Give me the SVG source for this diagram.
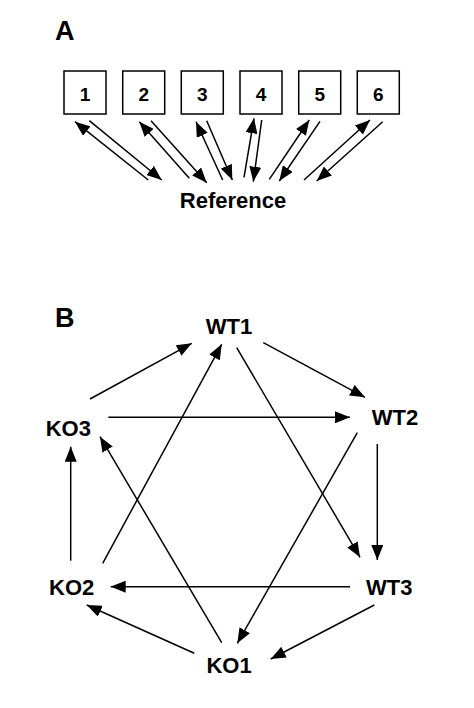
<svg xmlns="http://www.w3.org/2000/svg" width="474" height="708" viewBox="0 0 474 708">
<defs>
<marker id="ah" markerUnits="userSpaceOnUse" markerWidth="15" markerHeight="12" refX="15" refY="6" orient="auto">
<path d="M0,0 L15,6 L0,12 z" fill="#000"/>
</marker>
<style>
.t{font-family:"Liberation Sans",Arial,sans-serif;font-weight:bold;fill:#000;text-anchor:middle}
.box{fill:#fff;stroke:#000;stroke-width:1.5}
.c line{stroke:#000;stroke-width:1.5;marker-end:url(#ah)}
</style>
</defs>
<rect width="474" height="708" fill="#fff"/>
<text class="t" x="55" y="40" font-size="27" style="text-anchor:start">A</text>
<text class="t" x="55" y="327" font-size="27" style="text-anchor:start">B</text>

<g id="box1"><rect class="box" x="64" y="71" width="42" height="43"/><text class="t" x="85" y="100.8" font-size="19">1</text></g>
<g id="box2"><rect class="box" x="122.7" y="71" width="42" height="43"/><text class="t" x="143.7" y="100.8" font-size="19">2</text></g>
<g id="box3"><rect class="box" x="181.3" y="71" width="42" height="43"/><text class="t" x="202.3" y="100.8" font-size="19">3</text></g>
<g id="box4"><rect class="box" x="240" y="71" width="42" height="43"/><text class="t" x="261" y="100.8" font-size="19">4</text></g>
<g id="box5"><rect class="box" x="298.7" y="71" width="42" height="43"/><text class="t" x="319.7" y="100.8" font-size="19">5</text></g>
<g id="box6"><rect class="box" x="357.3" y="71" width="42" height="43"/><text class="t" x="378.3" y="100.8" font-size="19">6</text></g>
<g id="reference"><text class="t" x="233" y="207.7" font-size="22">Reference</text></g>

<g id="WT1"><text class="t" x="229" y="333.8" font-size="22">WT1</text></g>
<g id="WT2"><text class="t" x="395" y="425" font-size="22">WT2</text></g>
<g id="WT3"><text class="t" x="389.3" y="595" font-size="22">WT3</text></g>
<g id="KO1"><text class="t" x="229" y="672.7" font-size="22">KO1</text></g>
<g id="KO2"><text class="t" x="71.7" y="595" font-size="22">KO2</text></g>
<g id="KO3"><text class="t" x="68.3" y="436" font-size="22">KO3</text></g>

<g id="connectors" class="c">
<line x1="148.3" y1="180" x2="75" y2="121.7"/>
<line x1="89.3" y1="120.7" x2="161.7" y2="180"/>
<line x1="189.3" y1="178.3" x2="139.3" y2="121.7"/>
<line x1="151" y1="120.7" x2="206.7" y2="182.7"/>
<line x1="222.7" y1="180" x2="196" y2="121.7"/>
<line x1="206.7" y1="120.7" x2="232.3" y2="180"/>
<line x1="244" y1="177.3" x2="254" y2="118.3"/>
<line x1="261.7" y1="120" x2="253.3" y2="181.7"/>
<line x1="269.3" y1="179.3" x2="309.3" y2="120"/>
<line x1="320" y1="121.3" x2="279.3" y2="181"/>
<line x1="304" y1="180" x2="370" y2="120"/>
<line x1="382.7" y1="121.7" x2="316.7" y2="181"/>

<line x1="90" y1="399" x2="191.7" y2="343.3"/>
<line x1="102.7" y1="563.3" x2="221.7" y2="344.3"/>
<line x1="263.3" y1="342.7" x2="365" y2="397.3"/>
<line x1="236.7" y1="347.7" x2="360" y2="557.3"/>
<line x1="108.3" y1="417.3" x2="350" y2="417.3"/>
<line x1="357.3" y1="432.7" x2="237.3" y2="643.3"/>
<line x1="377.3" y1="444" x2="377.3" y2="560"/>
<line x1="221.7" y1="642.7" x2="100" y2="436.7"/>
<line x1="70.7" y1="560.7" x2="70.7" y2="446.7"/>
<line x1="350" y1="586.7" x2="110.7" y2="586.7"/>
<line x1="374.3" y1="605" x2="270.7" y2="659"/>
<line x1="194.3" y1="653.3" x2="86.7" y2="605"/>
</g>
</svg>
